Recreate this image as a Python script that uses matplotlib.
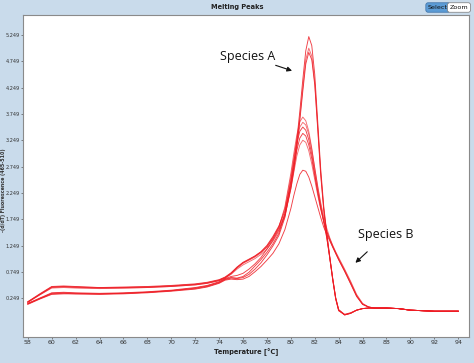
import matplotlib
matplotlib.use("Agg")
import matplotlib.pyplot as plt
import logging
logging.getLogger("matplotlib.font_manager").setLevel(logging.ERROR)

temps = [58, 59, 60, 61, 62, 64, 66, 68, 70, 72,
         73, 74, 74.5, 75, 75.5, 76, 76.5, 77, 77.5, 78,
         78.5, 79, 79.5, 80, 80.25, 80.5, 80.75, 81, 81.25, 81.5,
         81.75, 82, 82.25, 82.5, 82.75, 83, 83.25, 83.5, 83.75, 84,
         84.5, 85, 85.5, 86, 86.5, 87, 88, 89, 90, 92, 94]

a1 = [0.18, 0.33, 0.47, 0.48, 0.47, 0.45, 0.46, 0.47, 0.49, 0.52,
      0.55, 0.60, 0.65, 0.73, 0.84, 0.93, 0.99, 1.05, 1.13, 1.25,
      1.42, 1.62, 1.90, 2.45, 2.80, 3.25, 3.80, 4.40, 4.95, 5.22,
      5.05, 4.50, 3.60, 2.70, 2.00, 1.50, 1.05, 0.62, 0.25, 0.02,
      -0.07, -0.04, 0.02, 0.05, 0.06, 0.06, 0.06, 0.05, 0.02, 0.00, 0.00]
a2 = [0.17, 0.32, 0.46, 0.47, 0.46, 0.44, 0.45, 0.46, 0.48, 0.51,
      0.54, 0.59, 0.64, 0.72, 0.82, 0.91, 0.97, 1.03, 1.11, 1.22,
      1.38, 1.58, 1.85, 2.38, 2.72, 3.15, 3.68, 4.25, 4.78, 5.00,
      4.85, 4.35, 3.50, 2.62, 1.95, 1.47, 1.03, 0.60, 0.24, 0.01,
      -0.06, -0.03, 0.02, 0.05, 0.06, 0.06, 0.06, 0.05, 0.02, 0.00, 0.00]
a3 = [0.15, 0.25, 0.35, 0.36, 0.35, 0.34, 0.35, 0.37, 0.40, 0.45,
      0.49, 0.56, 0.62, 0.66, 0.68, 0.72, 0.80, 0.90, 1.02, 1.18,
      1.35, 1.55, 1.82, 2.33, 2.68, 3.10, 3.62, 4.18, 4.70, 4.92,
      4.78, 4.30, 3.45, 2.58, 1.92, 1.45, 1.02, 0.60, 0.23, 0.01,
      -0.07, -0.04, 0.02, 0.05, 0.06, 0.06, 0.06, 0.05, 0.02, 0.00, 0.00]
m1 = [0.17, 0.31, 0.45, 0.46, 0.45, 0.44, 0.44, 0.45, 0.47, 0.50,
      0.53, 0.58, 0.63, 0.71, 0.83, 0.92, 0.98, 1.04, 1.12, 1.22,
      1.38, 1.60, 1.98, 2.62, 3.00, 3.35, 3.60, 3.69, 3.62, 3.42,
      3.10, 2.72, 2.35, 2.02, 1.72, 1.40, 1.02, 0.62, 0.25, 0.03,
      -0.06, -0.03, 0.02, 0.05, 0.06, 0.06, 0.06, 0.05, 0.02, 0.00, 0.00]
m2 = [0.14, 0.24, 0.34, 0.35, 0.34, 0.33, 0.34, 0.36, 0.39, 0.44,
      0.48, 0.55, 0.61, 0.64, 0.63, 0.66, 0.74, 0.86, 0.98, 1.12,
      1.28, 1.48, 1.85, 2.48, 2.85, 3.18, 3.42, 3.50, 3.44, 3.26,
      2.98, 2.62, 2.28, 1.98, 1.70, 1.40, 1.03, 0.63, 0.26, 0.03,
      -0.07, -0.04, 0.02, 0.05, 0.06, 0.06, 0.06, 0.05, 0.02, 0.00, 0.00]
b1 = [0.18, 0.32, 0.46, 0.47, 0.46, 0.45, 0.45, 0.46, 0.48, 0.51,
      0.54, 0.59, 0.64, 0.72, 0.83, 0.92, 0.98, 1.05, 1.13, 1.24,
      1.40, 1.60, 1.95, 2.55, 2.92, 3.27, 3.50, 3.59, 3.54, 3.36,
      3.07, 2.72, 2.38, 2.06, 1.80, 1.58, 1.40, 1.25, 1.12, 1.00,
      0.78, 0.55, 0.30, 0.14, 0.08, 0.06, 0.06, 0.05, 0.02, 0.00, 0.00]
b2 = [0.14, 0.24, 0.33, 0.34, 0.33, 0.33, 0.34, 0.36, 0.39, 0.43,
      0.47, 0.54, 0.60, 0.63, 0.62, 0.64, 0.70, 0.80, 0.92, 1.07,
      1.24, 1.44, 1.78, 2.38, 2.74, 3.06, 3.29, 3.38, 3.33, 3.16,
      2.90, 2.57, 2.25, 1.96, 1.72, 1.52, 1.36, 1.22, 1.10, 0.98,
      0.76, 0.52, 0.28, 0.13, 0.08, 0.06, 0.06, 0.05, 0.02, 0.00, 0.00]
b3 = [0.17, 0.31, 0.44, 0.45, 0.44, 0.43, 0.44, 0.45, 0.47, 0.50,
      0.53, 0.58, 0.63, 0.70, 0.80, 0.88, 0.94, 1.00, 1.08, 1.18,
      1.33, 1.52, 1.80, 2.32, 2.64, 2.95, 3.16, 3.25, 3.21, 3.05,
      2.80, 2.50, 2.20, 1.93, 1.70, 1.52, 1.38, 1.25, 1.13, 1.02,
      0.80, 0.57, 0.32, 0.15, 0.08, 0.06, 0.06, 0.05, 0.02, 0.00, 0.00]
b4 = [0.13, 0.23, 0.32, 0.33, 0.33, 0.32, 0.33, 0.35, 0.38, 0.42,
      0.46, 0.53, 0.59, 0.61, 0.60, 0.61, 0.66, 0.75, 0.85, 0.97,
      1.10, 1.28, 1.55, 1.95, 2.20, 2.42, 2.60, 2.68, 2.66, 2.55,
      2.38, 2.18, 1.98, 1.78, 1.60, 1.46, 1.34, 1.22, 1.10, 0.98,
      0.76, 0.53, 0.29, 0.13, 0.08, 0.06, 0.06, 0.05, 0.02, 0.00, 0.00]

curves = [a1, a2, a3, m1, m2, b1, b2, b3, b4]

x_ticks = list(range(58, 95, 2))
y_ticks = [0.249, 0.749, 1.249, 1.749, 2.249, 2.749, 3.249, 3.749, 4.249, 4.749, 5.249]
y_tick_labels = ["0.249", "0.749", "1.249", "1.749", "2.249", "2.749",
                 "3.249", "3.749", "4.249", "4.749", "5.249"]

narrow = ["Liberation Sans Narrow", "DejaVu Sans Condensed", "DejaVu Sans"]

bg = "#c9dbeb"
fig = plt.figure(figsize=(4.74, 3.63), dpi=100, facecolor=bg)
ax = fig.add_axes([23 / 474, 1 - 337 / 363, 446 / 474, 322 / 363])
ax.set_facecolor("white")

for i, c in enumerate(curves):
    ax.plot(temps, c, color="#ee1c24", lw=0.65, alpha=0.85 if i % 2 == 0 else 0.65)

ax.set_xlim(57.6, 94.9)
ax.set_ylim(-0.49, 5.63)
ax.set_xticks(x_ticks)
ax.set_xticklabels([str(t) for t in x_ticks], fontsize=4.5, color="#333333", family=narrow)
ax.set_yticks(y_ticks)
ax.set_yticklabels(y_tick_labels, fontsize=3.6, color="#333333", family=narrow)
ax.tick_params(length=1.5, width=0.5, color="#555555", pad=0.8)
for s in ax.spines.values():
    s.set_color("#8a8a8a")
    s.set_linewidth(0.8)

ax.set_xlabel("Temperature [°C]", fontsize=4.8, labelpad=2, fontweight="bold",
              color="#222222", family=narrow)
fig.text(3.5 / 474, 1 - 190 / 363, "-(d/dT) Fluorescence (465-510)", rotation=90,
         ha="center", va="center", fontsize=3.4, fontweight="bold", color="#333333")

fig.text(0.5, 1 - 7 / 363, "Melting Peaks", ha="center", va="center", fontsize=4.8,
         fontweight="bold", color="#222222", family=narrow)
fig.text(438 / 474, 1 - 7.5 / 363, "Select", ha="center", va="center", fontsize=4.6, color="#111111",
         family=narrow, bbox=dict(boxstyle="round,pad=0.35", fc="#5b9bd5", ec="#3a6ea5", lw=0.5))
fig.text(459 / 474, 1 - 7.5 / 363, "Zoom", ha="center", va="center", fontsize=4.6, color="#111111",
         family=narrow, bbox=dict(boxstyle="round,pad=0.35", fc="white", ec="#777777", lw=0.5))

ax.annotate("Species A", xy=(80.1, 4.57), xytext=(76.4, 4.85), fontsize=9,
            ha="center", va="center", family="Open Sans", color="#111111",
            arrowprops=dict(arrowstyle="-|>", color="#111111", lw=0.8,
                            shrinkA=14, shrinkB=0, mutation_scale=7))
ax.annotate("Species B", xy=(85.4, 0.92), xytext=(87.9, 1.45), fontsize=9,
            ha="center", va="center", family="Open Sans", color="#111111",
            arrowprops=dict(arrowstyle="-|>", color="#111111", lw=0.8,
                            shrinkA=8, shrinkB=0, mutation_scale=7))

fig.savefig("out.png", dpi=100, facecolor=bg)
